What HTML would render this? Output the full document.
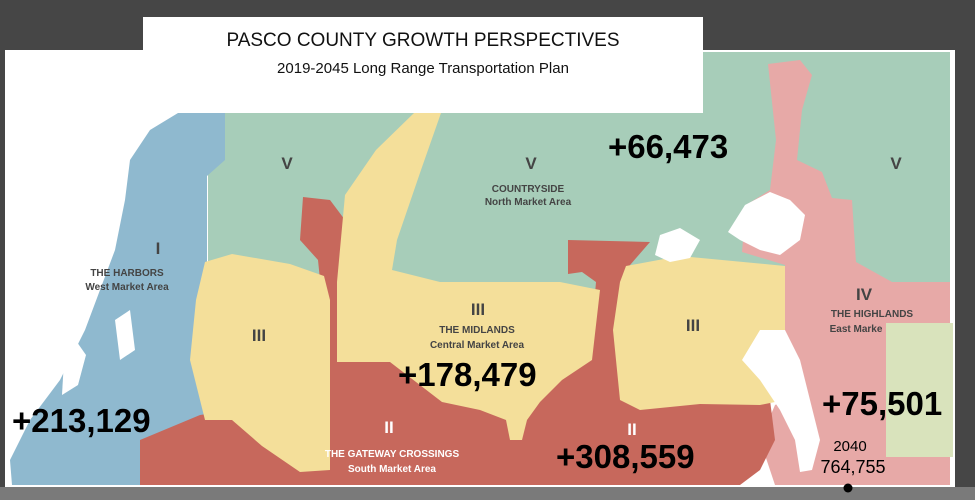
<!DOCTYPE html>
<html><head><meta charset="utf-8"><style>
html,body{margin:0;padding:0;background:#464646;}
svg{display:block}
</style></head><body>
<svg width="975" height="500" viewBox="0 0 975 500" xmlns="http://www.w3.org/2000/svg" font-family="Liberation Sans, sans-serif">
<rect x="0" y="0" width="975" height="500" fill="#464646"/>
<rect x="5" y="50" width="950" height="437" fill="#ffffff"/>
<rect x="0" y="487" width="975" height="13" fill="#7a7a7a"/>
<!-- green -->
<rect x="208" y="52" width="742" height="240" fill="#a7cdb9"/>
<!-- blue -->
<polygon fill="#8fb9cf" points="178,113 225,113 225,160 207,176 207,300 200,360 205,420 190,440 140,445 140,485 12,485 10,460 30,420 60,380 85,330 100,290 115,250 125,200 130,160 150,130"/>
<!-- pink -->
<polygon fill="#e7a9a7" points="768,64 800,60 812,75 802,110 797,160 822,172 832,198 852,200 856,262 892,282 950,282 950,485 775,485 760,440 775,405 785,400 785,265 742,252 746,205 770,190 776,140"/>
<!-- red -->
<polygon fill="#c7685c" points="140,440 200,415 300,400 330,360 600,360 600,400 770,400 775,440 760,470 740,485 140,485"/>
<polygon fill="#c7685c" points="303,197 330,200 345,220 340,380 310,380 322,300 318,260 300,240"/>
<polygon fill="#c7685c" points="568,240 650,242 624,272 614,330 622,402 580,402 592,330 596,282 582,272 568,274"/>
<!-- yellow west -->
<polygon fill="#f4df9a" points="205,262 232,254 290,264 324,276 330,300 330,470 300,472 262,446 232,420 205,420 190,360 196,300"/>
<!-- yellow central -->
<polygon fill="#f4df9a" points="337,282 345,195 376,150 414,113 441,113 421,170 397,240 392,270 440,282 560,282 600,290 592,360 562,380 540,402 527,420 522,440 510,440 506,420 480,410 442,402 390,362 337,362"/>
<!-- yellow east -->
<polygon fill="#f4df9a" points="626,266 680,256 785,266 785,400 760,405 700,404 640,410 620,400 613,330 620,282"/>
<!-- white patches -->
<polygon fill="#ffffff" points="745,205 770,192 790,200 805,215 800,240 780,255 760,250 740,240 728,232"/>
<polygon fill="#ffffff" points="660,235 680,228 700,240 690,258 670,262 655,255"/>
<polygon fill="#ffffff" points="760,330 785,330 800,360 810,400 820,440 812,470 800,472 795,440 780,410 760,380 742,360"/>
<polygon fill="#ffffff" points="62,395 78,385 86,355 72,335 64,360"/>
<polygon fill="#ffffff" points="115,320 130,310 135,350 120,360"/>
<!-- light green box -->
<rect x="886" y="323" width="67" height="134" fill="#d9e3bc"/>
<!-- title box -->
<rect x="143" y="17" width="560" height="96" fill="#ffffff"/>
<text x="423" y="46" font-size="19" text-anchor="middle" fill="#111">PASCO COUNTY GROWTH PERSPECTIVES</text>
<text x="423" y="73" font-size="15" text-anchor="middle" fill="#111">2019-2045 Long Range Transportation Plan</text>
<!-- roman labels -->
<g fill="#444" font-weight="bold" text-anchor="middle">
<text x="287" y="169" font-size="17">V</text>
<text x="531" y="169" font-size="17">V</text>
<text x="896" y="169" font-size="17">V</text>
<text x="158" y="254" font-size="17">I</text>
<text x="259" y="341" font-size="17">III</text>
<text x="478" y="315" font-size="17">III</text>
<text x="693" y="331" font-size="17">III</text>
<text x="864" y="300" font-size="17">IV</text>
<text x="528" y="192" font-size="10">COUNTRYSIDE</text>
<text x="528" y="205" font-size="10">North Market Area</text>
<text x="127" y="276" font-size="10">THE HARBORS</text>
<text x="127" y="290" font-size="10">West Market Area</text>
<text x="477" y="333" font-size="10">THE MIDLANDS</text>
<text x="477" y="348" font-size="10">Central Market Area</text>
<text x="872" y="317" font-size="10">THE HIGHLANDS</text>
<text x="856" y="332" font-size="10" text-anchor="middle">East Marke</text>
</g>
<g fill="#ffffff" font-weight="bold" text-anchor="middle">
<text x="389" y="433" font-size="17">II</text>
<text x="632" y="435" font-size="17">II</text>
<text x="392" y="457" font-size="10">THE GATEWAY CROSSINGS</text>
<text x="392" y="472" font-size="10">South Market Area</text>
</g>
<!-- numbers -->
<g fill="#000" font-weight="bold" font-size="33">
<text x="608" y="158">+66,473</text>
<text x="12" y="432">+213,129</text>
<text x="398" y="386">+178,479</text>
<text x="556" y="468">+308,559</text>
<text x="822" y="415">+75,501</text>
</g>
<text x="850" y="451" font-size="15" text-anchor="middle" fill="#000">2040</text>
<text x="853" y="473" font-size="18" text-anchor="middle" fill="#000">764,755</text>
<circle cx="848" cy="488" r="4.5" fill="#000"/>
</svg>
</body></html>
